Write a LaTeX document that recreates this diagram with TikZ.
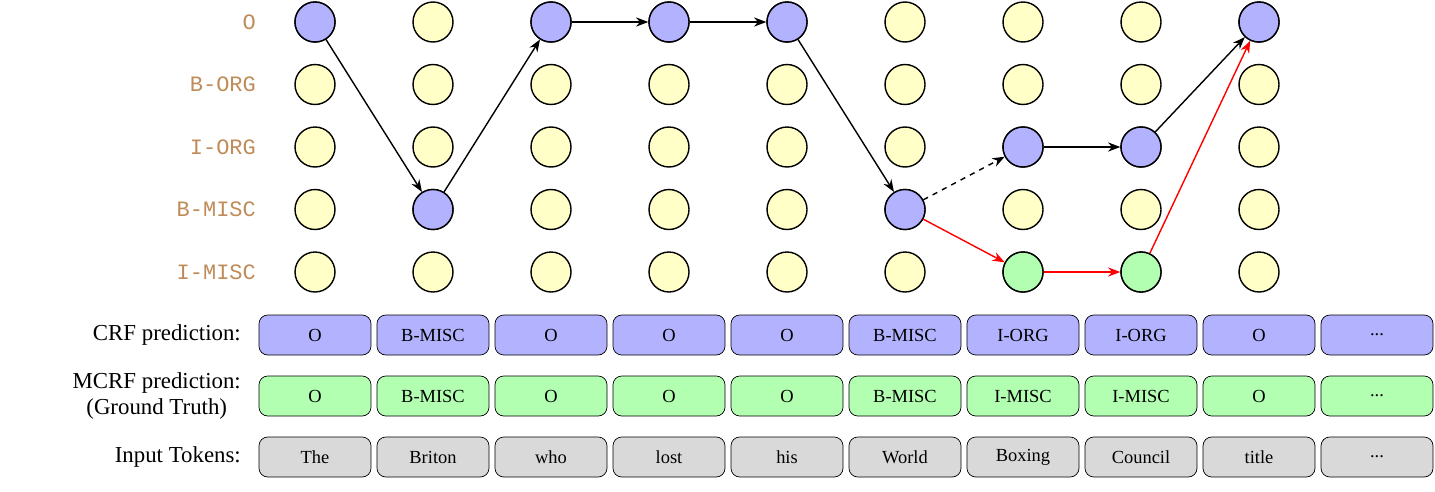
\documentclass[tikz,border=0pt]{standalone}
\usepackage{fontspec}
\setmainfont{Liberation Serif}
\setmonofont{Liberation Mono}
\usetikzlibrary{arrows.meta}
\definecolor{crfblue}{rgb}{0.7,0.7,1}
\definecolor{mcrfgreen}{rgb}{0.7,1,0.7}
\definecolor{tokgray}{rgb}{0.85,0.85,0.85}
\definecolor{cellyellow}{rgb}{1,1,0.78}
\definecolor{tagbrown}{rgb}{0.75,0.55,0.35}
\newcommand{\moredots}{.\kern0pt.\kern0pt.}
\begin{document}
\begin{tikzpicture}[
    x=0.02cm, y=-0.02cm,
    cell/.style={circle, draw, thick, fill=cellyellow, minimum size=0.8cm, inner sep=0pt},
    crf/.style={cell, fill=crfblue},
    mcrf/.style={cell, fill=mcrfgreen},
    tag/.style={anchor=east, text=tagbrown, font=\ttfamily\fontsize{12.5}{14}\selectfont},
    rowlabel/.style={anchor=east, font=\fontsize{13}{15}\selectfont, align=center},
    box/.style={draw, rounded corners=5pt, minimum width=2.24cm, minimum height=0.8cm, inner sep=0pt, font=\fontsize{10.5}{12}\selectfont},
    normal/.style={-{Stealth[length=7pt]}, thick},
    dashedarc/.style={normal, dashed},
    redarc/.style={normal, red}
  ]
  \useasboundingbox (0,0) rectangle (1435,491);
  % tag labels
  \foreach \t [count=\r] in {O,B-ORG,I-ORG,B-MISC,I-MISC}
    \node[tag] (t\r) at (262,{22+62.5*(\r-1)}) {\t};
  % lattice of cells
  \foreach \c in {1,2,3,4,5,6,7,8,9}
    \foreach \r in {1,2,3,4,5}
      \node[cell] (n\c-\r) at ({315+118*(\c-1)},{22+62.5*(\r-1)}) {};
  % highlighted cells
  \foreach \c/\r in {1/1,2/4,3/1,4/1,5/1,6/4,7/3,8/3,9/1}
    \node[crf] at (n\c-\r) {};
  \foreach \c/\r in {7/5,8/5}
    \node[mcrf] at (n\c-\r) {};
  % CRF path
  \draw[normal] (n1-1) -- (n2-4);
  \draw[normal] (n2-4) -- (n3-1);
  \draw[normal] (n3-1) -- (n4-1);
  \draw[normal] (n4-1) -- (n5-1);
  \draw[normal] (n5-1) -- (n6-4);
  \draw[dashedarc] (n6-4) -- (n7-3);
  \draw[normal] (n7-3) -- (n8-3);
  \draw[normal] (n8-3) -- (n9-1);
  % MCRF path
  \draw[redarc] (n6-4) -- (n7-5);
  \draw[redarc] (n7-5) -- (n8-5);
  \draw[redarc] (n8-5) -- (n9-1);
  % row labels
  \node[rowlabel] (lcrf) at (247,335) {CRF prediction:};
  \node[rowlabel] (lmcrf) at (247,396) {MCRF prediction:\\(Ground Truth)};
  \node[rowlabel] (ltok) at (247,457) {Input Tokens:};
  % boxes
  \foreach \t [count=\c] in {O,B-MISC,O,O,O,B-MISC,I-ORG,I-ORG,O,\moredots}
    \node[box, fill=crfblue] (p\c) at ({315+118*(\c-1)},335) {\t};
  \foreach \t [count=\c] in {O,B-MISC,O,O,O,B-MISC,I-MISC,I-MISC,O,\moredots}
    \node[box, fill=mcrfgreen] (g\c) at ({315+118*(\c-1)},396) {\t};
  \foreach \t [count=\c] in {The,Briton,who,lost,his,World,Boxing,Council,title,\moredots}
    \node[box, fill=tokgray] (w\c) at ({315+118*(\c-1)},457) {\t};
\end{tikzpicture}
\end{document}
